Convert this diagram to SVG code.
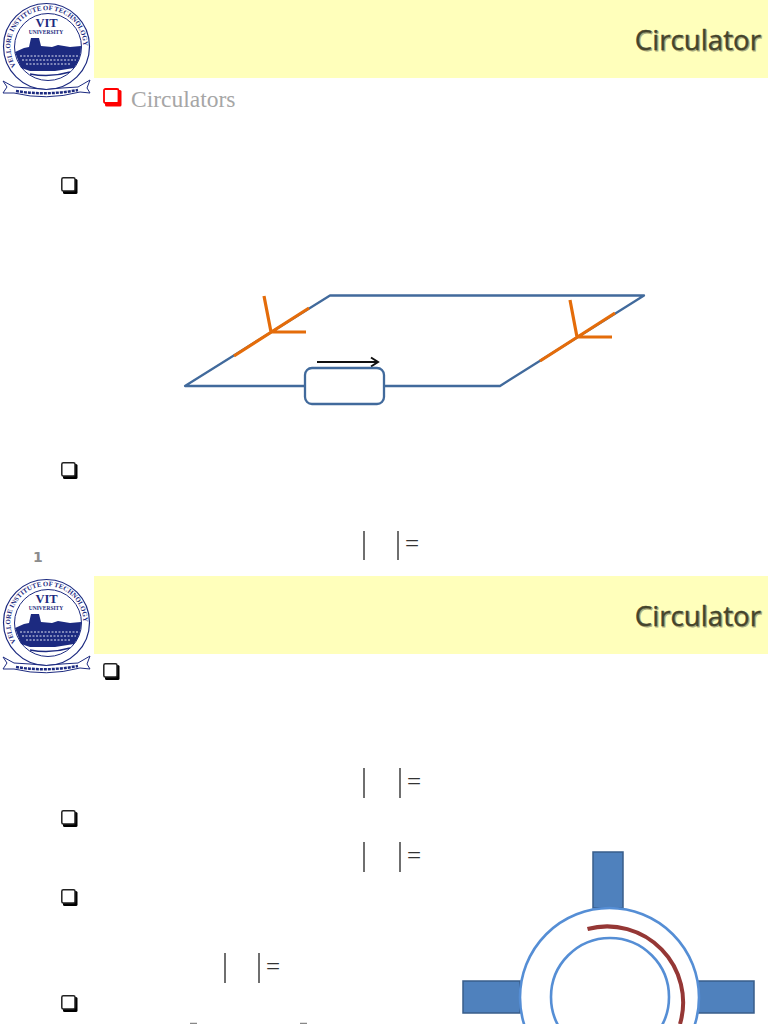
<svg xmlns="http://www.w3.org/2000/svg" xmlns:xlink="http://www.w3.org/1999/xlink" width="768" height="1024" viewBox="0 0 768 1024">
<style>
.band{fill:#ffffbb}
.title{font-family:"Open Sans","Liberation Sans",sans-serif;font-size:27.700px;text-anchor:end;fill:#45452c;stroke:#45452c;stroke-width:.35}
.titleS{font-family:"Open Sans","Liberation Sans",sans-serif;font-size:27.700px;text-anchor:end;fill:#8f8f68;opacity:.75;stroke:#8f8f68;stroke-width:.8}
.bar{stroke:#333;stroke-width:1.400;fill:none}
.eq{font-family:"Liberation Serif",serif;font-size:25px;fill:#333}
.wire{stroke:#416a9c;stroke-width:2.300;fill:none;stroke-linejoin:round}
.ant{stroke:#e46c0a;stroke-width:3.200;fill:none}
.port{fill:#4f81bd;stroke:#385d8a;stroke-width:1.500}
.ring{fill:#fff;stroke:#558ed5;stroke-width:2.600}
.seal{font-family:"Liberation Serif",serif;fill:#1c2a80;font-weight:bold}
</style>
<defs>
<g id="bk"><rect x="2" y="2" width="14.500" height="15" rx="1.500" fill="#000"/><rect x="0.800" y="0.800" width="13.200" height="13.200" rx="1.500" fill="#fff" stroke="#222" stroke-width="1.500"/></g>
<g id="rb"><rect x="2" y="2" width="16.500" height="16.500" rx="1.500" fill="#f00"/><rect x="1" y="1" width="14.500" height="14" rx="1.500" fill="#fff" stroke="#f00" stroke-width="1.800"/></g>
<path id="sealArc" d="M16,66 A36.500,36.500 0 1 1 80,62"/>
<g id="logo">
<circle cx="46.500" cy="46.500" r="43" fill="#fff" stroke="#1c2a80" stroke-width="1.200"/>
<circle cx="48" cy="47" r="33.500" fill="#fff" stroke="#1c2a80" stroke-width="1"/>
<text class="seal" font-size="6.800"><textPath xlink:href="#sealArc">VELLORE INSTITUTE OF TECHNOLOGY</textPath></text>
<text class="seal" x="46.500" y="27" font-size="12.500" text-anchor="middle">VIT</text>
<text class="seal" x="46" y="34" font-size="5.500" text-anchor="middle" font-weight="normal" fill="#555c90">UNIVERSITY</text>
<path d="M15,52 L24,48 L29,47 L31,38 L39,38 L41,46 L52,47 L58,45 L70,47 L81,46 A33.500,33.500 0 0 1 74,68 L55,71 L30,71 L21,68 Z" fill="#1c2a80"/>
<path d="M20,56 H78 M22,60 H76 M26,64 H70" stroke="#dfe3f2" stroke-width="1" stroke-dasharray="2 1.500" fill="none"/>
<path d="M30,74 Q50,78 70,72" stroke="#1c2a80" stroke-width="1.500" fill="none"/>
<path d="M3,81 L14,87 L30,88 Q46,91 62,88 L78,87 L90,80 L87,88 L90,93 L80,92 Q46,101 14,93 L3,93 L7,87 Z" fill="#fff" stroke="#1c2a80" stroke-width="1"/>
<path d="M16,91 Q46,96 78,90" stroke="#1c2a80" stroke-width="2.500" stroke-dasharray="3 1" fill="none"/>
</g>
</defs>

<g id="slide1-header">
<rect class="band" x="94" y="0" width="674" height="78"/>
<text class="titleS" x="762" y="51">Circulator</text>
<text class="title" x="761" y="50">Circulator</text>
<use xlink:href="#logo" x="0" y="0"/>
</g>
<g id="slide1-bullets">
<use xlink:href="#rb" x="103" y="88"/>
<text x="131" y="107" font-family="Liberation Serif,serif" font-size="23.500" fill="#a6a6a6">Circulators</text>
<use xlink:href="#bk" x="61" y="177"/>
<use xlink:href="#bk" x="61" y="462"/>
<text x="33" y="562" font-family="DejaVu Sans,sans-serif" font-weight="bold" font-size="14" fill="#8c8c8c">1</text>
</g>
<g id="connectors">
<path class="wire" d="M305,386 H185 L330,295.500 H644 L500,386 H384"/>
<path d="M317,362 H377 M371,357.500 L378,362 L371,366.500" fill="none" stroke="#111" stroke-width="2"/>
</g>
<g id="resistor"><rect x="305" y="368" width="79" height="36" rx="7" fill="#fff" stroke="#416a9c" stroke-width="2.300"/></g>
<g id="antenna-left"><path class="ant" d="M234,356 L309,308 M264,296 L271,332 H306"/></g>
<g id="antenna-right"><path class="ant" d="M540,361 L615,313 M570,300 L577,337 H612"/></g>
<g id="eq1">
<path class="bar" d="M364,531 V560 M398,531 V560"/>
<text class="eq" x="405" y="552">=</text>
</g>

<g id="slide2-header">
<rect class="band" x="94" y="576" width="674" height="78"/>
<text class="titleS" x="762" y="627">Circulator</text>
<text class="title" x="761" y="626">Circulator</text>
<use xlink:href="#logo" x="0" y="576"/>
</g>
<g id="slide2-bullets">
<use xlink:href="#bk" x="103" y="663"/>
<use xlink:href="#bk" x="61" y="810"/>
<use xlink:href="#bk" x="61" y="889"/>
<use xlink:href="#bk" x="61" y="995"/>
</g>
<g id="eq2"><path class="bar" d="M364,768 V798 M400,768 V798"/><text class="eq" x="407" y="790">=</text></g>
<g id="eq3"><path class="bar" d="M364,842 V872 M400,842 V872"/><text class="eq" x="407" y="864">=</text></g>
<g id="eq4"><path class="bar" d="M225,953 V983 M259,953 V983"/><text class="eq" x="266" y="975">=</text></g>
<g id="eq5"><path d="M190,1023.500 H197 M300,1023.500 H307" stroke="#888" stroke-width="1.500" fill="none"/></g>

<g id="circulator">
<rect class="port" x="593" y="852" width="30" height="56"/>
<rect class="port" x="463" y="981" width="57" height="32"/>
<rect class="port" x="698" y="981" width="56" height="32"/>
<circle class="ring" cx="609.500" cy="997.500" r="89.500"/>
<circle class="ring" cx="610" cy="997" r="59"/>
<path d="M587.500,929 A76,76 0 0 1 680,1024" fill="none" stroke="#953735" stroke-width="4"/>
</g>
</svg>
